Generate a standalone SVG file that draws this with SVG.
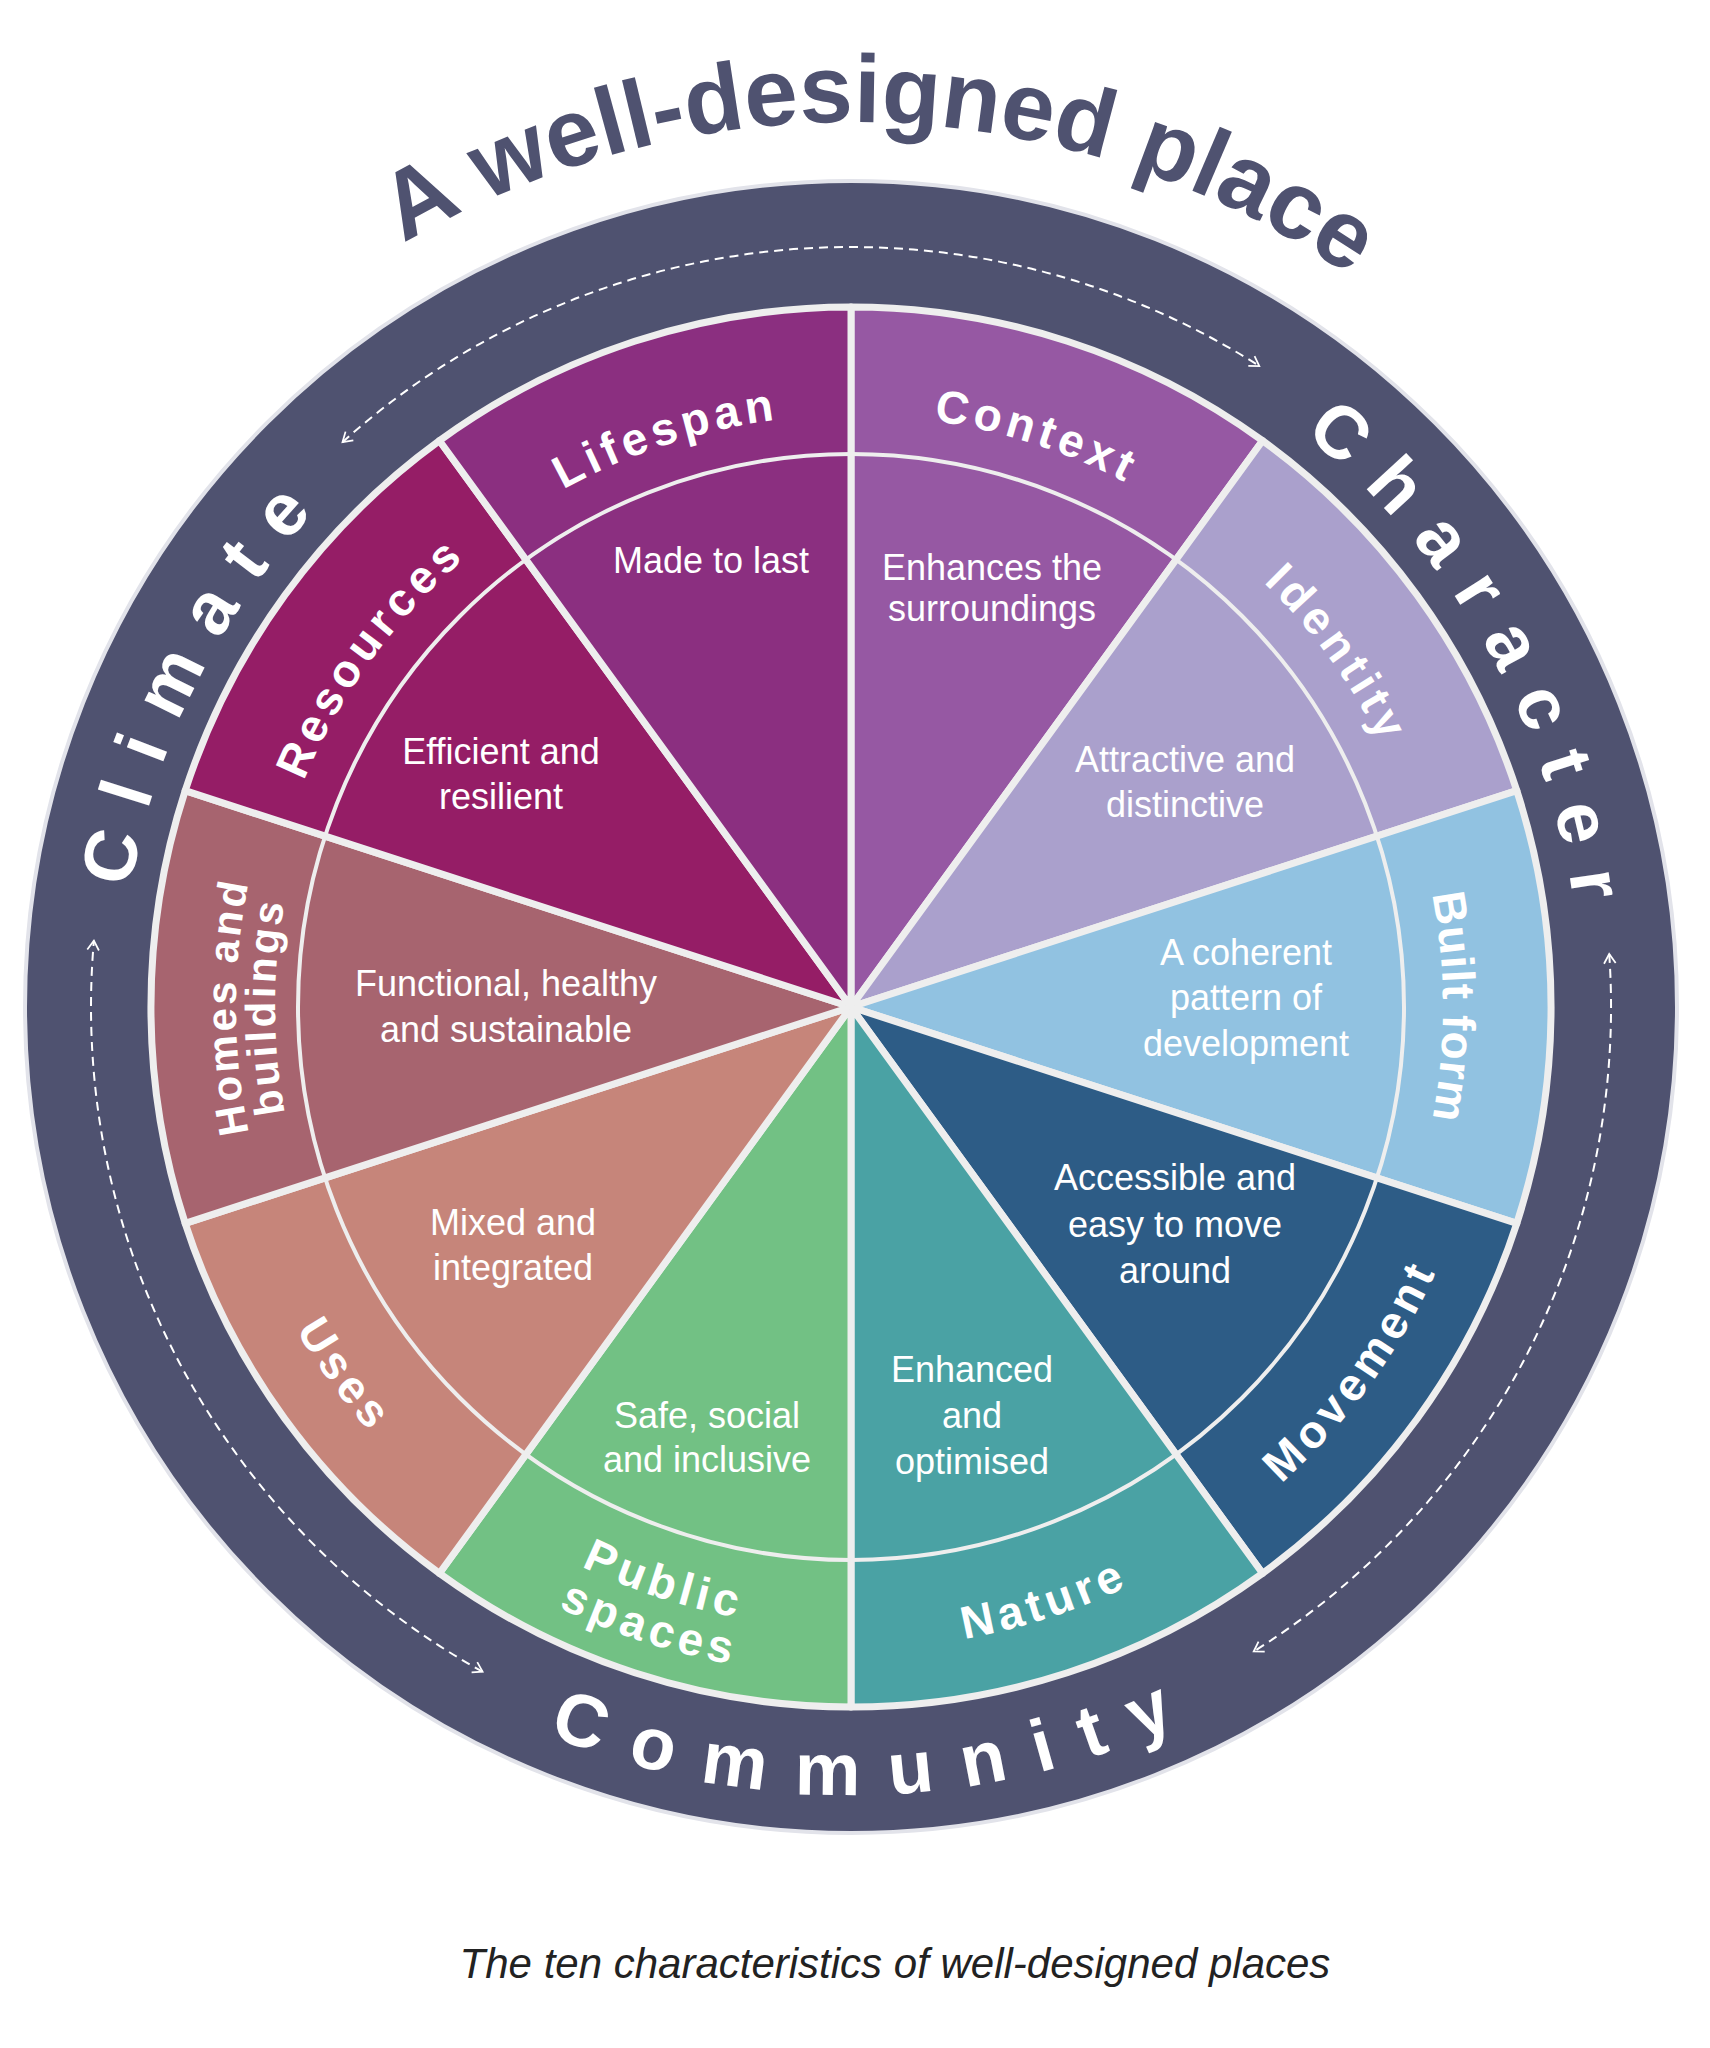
<svg xmlns="http://www.w3.org/2000/svg" width="1710" height="2048" viewBox="0 0 1710 2048">
<style>
.w{stroke:#eeeeee;stroke-width:7;stroke-linejoin:round}
.lab{font-family:"Liberation Sans",Arial,sans-serif;font-weight:bold;fill:#fff;font-size:46px;letter-spacing:5px}
.in{font-family:"Liberation Sans",Arial,sans-serif;fill:#fff;font-size:36px;text-anchor:middle}
.ring{font-family:"Liberation Sans",Arial,sans-serif;font-weight:bold;fill:#fff;font-size:74px;letter-spacing:26px}
.dash{fill:none;stroke:#fff;stroke-width:2;stroke-dasharray:9 6}
</style>
<defs>
<marker id="ah" viewBox="0 0 12 12" refX="10" refY="6" markerWidth="14" markerHeight="14" markerUnits="userSpaceOnUse" orient="auto-start-reverse"><path d="M2,1 L10,6 L2,11" fill="none" stroke="#fff" stroke-width="1.5"/></marker>
<path id="cw592" d="M432.4,588.4 A592 592 0 0 1 1269.6,588.4"/>
<path id="cw615" d="M416.1,572.1 A615 615 0 0 1 1285.9,572.1"/>
<path id="cw576" d="M443.7,599.7 A576 576 0 0 1 1258.3,599.7"/>
<path id="ccw642" d="M397,1461 A642 642 0 0 0 1305,1461"/>
<path id="ccw621" d="M411.9,1446.1 A621 621 0 0 0 1290.1,1446.1"/>
<path id="ccw668" d="M378.7,1479.3 A668 668 0 0 0 1323.3,1479.3"/>
<path id="cw730" d="M334.8,490.8 A730 730 0 0 1 1367.2,490.8"/>
<path id="ccw788" d="M293.8,1564.2 A788 788 0 0 0 1408.2,1564.2"/>
<path id="title" d="M84.6,564.5 A885 885 0 0 1 1617.4,564.5"/>
</defs>
<rect width="1710" height="2048" fill="#fff"/>
<g id="title-text" transform="rotate(2 851 1007)"><text font-family="'Liberation Sans',Arial,sans-serif" font-weight="bold" font-size="96" fill="#4f5270" text-anchor="middle"><textPath href="#title" startOffset="50%">A well-designed place</textPath></text></g>
<g id="ring"><circle cx="851" cy="1007" r="826" fill="#4f5270" stroke="#e2e3ea" stroke-width="4"/></g>
<g id="wedges">
<g id="context"><path class="w" fill="#9658a3" d="M851,1007 L851,307 A700 700 0 0 1 1262.5,440.7 Z"/></g>
<g id="identity"><path class="w" fill="#aaa0cc" d="M851,1007 L1262.5,440.7 A700 700 0 0 1 1516.8,790.7 Z"/></g>
<g id="builtform"><path class="w" fill="#91c2e1" d="M851,1007 L1516.8,790.7 A700 700 0 0 1 1516.8,1223.3 Z"/></g>
<g id="movement"><path class="w" fill="#2d5c86" d="M851,1007 L1516.8,1223.3 A700 700 0 0 1 1262.5,1573.3 Z"/></g>
<g id="nature"><path class="w" fill="#4aa2a4" d="M851,1007 L1262.5,1573.3 A700 700 0 0 1 851,1707 Z"/></g>
<g id="public"><path class="w" fill="#72c184" d="M851,1007 L851,1707 A700 700 0 0 1 439.5,1573.3 Z"/></g>
<g id="uses"><path class="w" fill="#c6857a" d="M851,1007 L439.5,1573.3 A700 700 0 0 1 185.2,1223.3 Z"/></g>
<g id="homes"><path class="w" fill="#a7646f" d="M851,1007 L185.2,1223.3 A700 700 0 0 1 185.2,790.7 Z"/></g>
<g id="resources"><path class="w" fill="#951d66" d="M851,1007 L185.2,790.7 A700 700 0 0 1 439.5,440.7 Z"/></g>
<g id="lifespan"><path class="w" fill="#8b2f80" d="M851,1007 L439.5,440.7 A700 700 0 0 1 851,307 Z"/></g>
<circle cx="851" cy="1007" r="553" fill="none" stroke="#eeeeee" stroke-width="4"/>
</g>
<g id="outer-labels">
<g transform="rotate(18 851 1007)"><text class="lab" text-anchor="middle"><textPath href="#cw592" startOffset="50%">Context</textPath></text></g>
<g transform="rotate(54 851 1007)"><text class="lab" text-anchor="middle"><textPath href="#cw592" startOffset="50%">Identity</textPath></text></g>
<g transform="rotate(90 851 1007)"><text class="lab" text-anchor="middle" style="letter-spacing:1px"><textPath href="#cw592" startOffset="50%">Built form</textPath></text></g>
<g transform="rotate(-54 851 1007)"><text class="lab" text-anchor="middle"><textPath href="#cw592" startOffset="50%">Resources</textPath></text></g>
<g transform="rotate(-18 851 1007)"><text class="lab" text-anchor="middle"><textPath href="#cw592" startOffset="50%">Lifespan</textPath></text></g>
<g transform="rotate(-90 851 1007)"><text class="lab" text-anchor="middle" style="font-size:42px;letter-spacing:3px"><textPath href="#cw615" startOffset="50%">Homes and</textPath></text><text class="lab" text-anchor="middle" style="font-size:42px;letter-spacing:3px"><textPath href="#cw576" startOffset="50%">buildings</textPath></text></g>
<g transform="rotate(-54 851 1007)"><text class="lab" text-anchor="middle"><textPath href="#ccw642" startOffset="50%">Movement</textPath></text></g>
<g transform="rotate(-18 851 1007)"><text class="lab" text-anchor="middle"><textPath href="#ccw642" startOffset="50%">Nature</textPath></text></g>
<g transform="rotate(18 851 1007)"><text class="lab" text-anchor="middle"><textPath href="#ccw621" startOffset="50%">Public</textPath></text><text class="lab" text-anchor="middle"><textPath href="#ccw668" startOffset="50%">spaces</textPath></text></g>
<g transform="rotate(54 851 1007)"><text class="lab" text-anchor="middle"><textPath href="#ccw642" startOffset="50%">Uses</textPath></text></g>
</g>
<g id="inner-labels">
<text class="in" x="711" y="573">Made to last</text>
<text class="in" x="992" y="580">Enhances the</text><text class="in" x="992" y="621">surroundings</text>
<text class="in" x="1185" y="772">Attractive and</text><text class="in" x="1185" y="817">distinctive</text>
<text class="in" x="1246" y="965">A coherent</text><text class="in" x="1246" y="1010">pattern of</text><text class="in" x="1246" y="1056">development</text>
<text class="in" x="1175" y="1190">Accessible and</text><text class="in" x="1175" y="1237">easy to move</text><text class="in" x="1175" y="1283">around</text>
<text class="in" x="972" y="1382">Enhanced</text><text class="in" x="972" y="1428">and</text><text class="in" x="972" y="1474">optimised</text>
<text class="in" x="707" y="1428">Safe, social</text><text class="in" x="707" y="1472">and inclusive</text>
<text class="in" x="513" y="1235">Mixed and</text><text class="in" x="513" y="1280">integrated</text>
<text class="in" x="506" y="996">Functional, healthy</text><text class="in" x="506" y="1042">and sustainable</text>
<text class="in" x="501" y="764">Efficient and</text><text class="in" x="501" y="809">resilient</text>
</g>
<g id="ring-labels">
<g transform="rotate(-63 851 1007)"><text class="ring" text-anchor="middle"><textPath href="#cw730" startOffset="50%">Climate</textPath></text></g>
<g transform="rotate(61 851 1007)"><text class="ring" text-anchor="middle"><textPath href="#cw730" startOffset="50%">Character</textPath></text></g>
<g transform="rotate(-2 851 1007)"><text class="ring" text-anchor="middle" style="letter-spacing:30px"><textPath href="#ccw788" startOffset="50%">Community</textPath></text></g>
</g>
<g id="connectors">
<path class="dash" marker-start="url(#ah)" marker-end="url(#ah)" d="M342.5,442.2 A760 760 0 0 1 1259.3,366"/>
<path class="dash" marker-start="url(#ah)" marker-end="url(#ah)" d="M482.6,1671.7 A760 760 0 0 1 93.9,940.7"/>
<path class="dash" marker-start="url(#ah)" marker-end="url(#ah)" d="M1609.2,954 A760 760 0 0 1 1253.7,1651.5"/>
</g>
<text id="caption" x="895" y="1978" font-family="'Liberation Sans',Arial,sans-serif" font-style="italic" font-size="42" fill="#222" text-anchor="middle">The ten characteristics of well-designed places</text>
</svg>
